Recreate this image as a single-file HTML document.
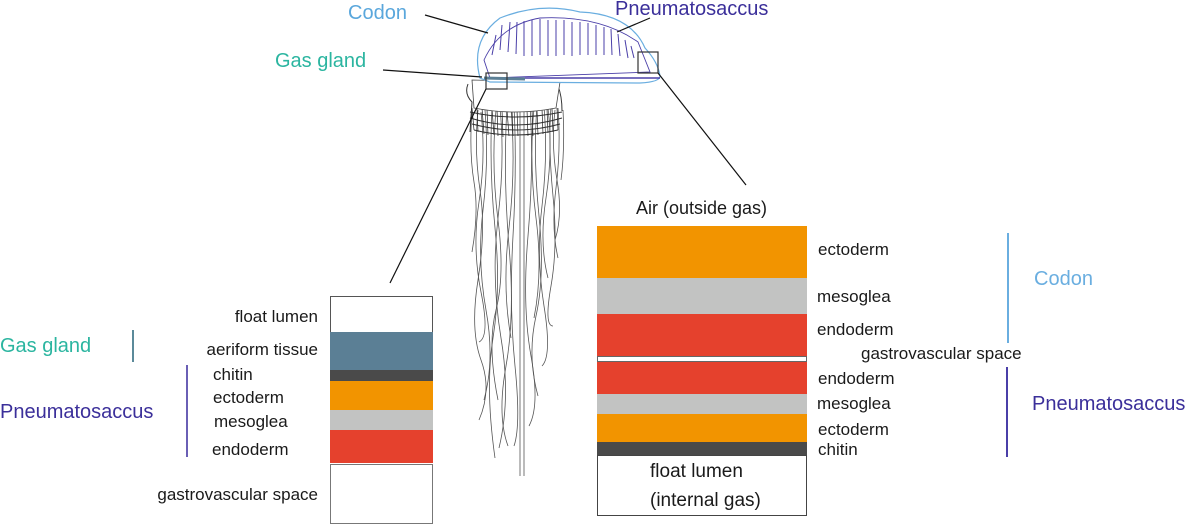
<!DOCTYPE html>
<html><head><meta charset="utf-8"><style>
html,body{margin:0;padding:0;background:#fff;}
body{width:1200px;height:526px;position:relative;overflow:hidden;font-family:"Liberation Sans","DejaVu Sans",sans-serif;}
.t{position:absolute;font-size:17px;color:#1a1a1a;white-space:nowrap;line-height:20px;}
.r{text-align:right;}
</style></head><body>
<svg width="1200" height="526" style="position:absolute;left:0;top:0" xmlns="http://www.w3.org/2000/svg">
<!-- tentacles -->
<g fill="none" stroke="#555" stroke-width="0.8">
<path d="M478 110 q-4 40 2 80 t-2 90 t3 80 t-2 60"/>
<path d="M485 110 q4 50 -2 100 t3 100 t-2 90"/>
<path d="M492 108 q-3 60 3 120 t-2 110 t2 120"/>
<path d="M500 108 q5 50 -2 110 t3 120 t-2 110"/>
<path d="M507 106 q-4 70 2 140 t-3 120 t2 80"/>
<path d="M514 106 q3 60 -1 130 t2 130 t-1 80"/>
<path d="M520 106 l0 370"/>
<path d="M524 106 l0 370"/>
<path d="M530 106 q4 60 -2 130 t3 120 t-2 70"/>
<path d="M537 106 q-4 50 2 110 t-3 100 t2 80"/>
<path d="M544 106 q4 50 -2 100 t2 100 t-2 60"/>
<path d="M551 106 q-3 40 2 90 t-2 90 t2 40"/>
<path d="M558 108 q3 40 -2 80 t2 70"/>
<path d="M472 112 q-3 40 2 70 t-2 70"/>
<path d="M563 110 q2 40 -2 70"/>
<path d="M481 112 q5 45 -2 90 t2 90 t-2 50"/>
<path d="M496 110 q-5 55 2 110 t-2 90 t2 90"/>
<path d="M511 108 q5 60 -2 120 t2 110"/>
<path d="M534 108 q-5 55 2 110 t-2 100"/>
<path d="M548 108 q5 45 -2 90 t2 80"/>
<path d="M555 110 q-4 35 2 70 t-2 60"/>
</g>
<g stroke="#333" stroke-width="1" fill="none">
<path d="M470 112 q45 10 92 0 M470 118 q45 14 92 0 M472 124 q45 12 88 0 M474 130 q40 10 84 0"/>
<path d="M468 84 q-4 10 4 18 l-2 30 M558 86 q4 10 4 25"/>
</g>
<g stroke="#222" stroke-width="0.7">
<path d="M472 108 l2 22 M477 108 l1 24 M482 108 l2 26 M487 109 l1 26 M492 109 l2 26 M497 109 l1 27 M502 110 l1 27 M507 110 l2 26 M512 110 l1 26 M517 110 l1 26 M527 110 l1 26 M532 110 l1 26 M537 110 l1 25 M542 109 l1 25 M547 109 l1 24 M552 108 l1 24 M557 108 l1 22"/>
</g>
<path d="M472 80 L560 82 L556 108 Q515 116 474 108 Z" fill="#fff" stroke="#444" stroke-width="0.8"/>
<!-- float -->
<path d="M480 78 Q470 40 500 18 Q540 2 580 12 Q630 14 645 48 Q658 62 660 76 Q660 82 640 83 L490 82 Z" fill="#fff" stroke="#6aaee0" stroke-width="1.2"/>
<path d="M484 60 Q500 25 540 18 Q600 15 638 42 L650 72 L490 78 Z" fill="none" stroke="#4a3fa8" stroke-width="0.9"/>
<g stroke="#4a3fa8" stroke-width="1" fill="none">
<path d="M492 55 l4 -20 M500 50 l2 -25 M508 52 l2 -30 M516 54 l1 -32 M524 56 l0 -35 M532 56 l0 -36 M540 55 l0 -36 M548 56 l0 -36 M556 56 l0 -36 M564 55 l0 -35 M572 56 l0 -34 M580 55 l0 -33 M588 55 l0 -32 M596 55 l0 -30 M604 55 l0 -28 M612 55 l-1 -26 M620 56 l-2 -22 M628 58 l-3 -18 M634 58 l-3 -12"/>
</g>
<path d="M484 78 L660 78" stroke="#4a3fa8" stroke-width="1.5"/>
<path d="M484 78 L525 79" stroke="#5b7f95" stroke-width="3"/>
<rect x="486" y="73" width="21" height="16" fill="none" stroke="#333" stroke-width="1.2"/>
<rect x="638" y="52" width="20" height="21" fill="none" stroke="#333" stroke-width="1.2"/>
<g stroke="#111" stroke-width="1.2">
<line x1="425" y1="15" x2="488" y2="33"/>
<line x1="650" y1="18" x2="617" y2="32"/>
<line x1="383" y1="70" x2="482" y2="77"/>
<line x1="486" y1="89" x2="390" y2="283"/>
<line x1="658" y1="73" x2="746" y2="185"/>
</g>
<!-- left stack -->
<rect x="330.5" y="296.5" width="102" height="36" fill="#fff" stroke="#555"/>
<rect x="330" y="332" width="103" height="38" fill="#5b7f95"/>
<rect x="330" y="370" width="103" height="11" fill="#4a4a4a"/>
<rect x="330" y="381" width="103" height="29" fill="#f29400"/>
<rect x="330" y="410" width="103" height="20" fill="#c2c3c2"/>
<rect x="330" y="430" width="103" height="33" fill="#e5412d"/>
<rect x="330.5" y="464.5" width="102" height="59" fill="#fff" stroke="#777"/>
<line x1="133" y1="330" x2="133" y2="362" stroke="#5b8a9a" stroke-width="2"/>
<line x1="187" y1="365" x2="187" y2="457" stroke="#6a5fb5" stroke-width="2"/>
<!-- right stack -->
<rect x="597" y="226" width="210" height="52" fill="#f29400"/>
<rect x="597" y="278" width="210" height="36" fill="#c2c3c2"/>
<rect x="597" y="314" width="210" height="42" fill="#e5412d"/>
<rect x="597.5" y="356.5" width="209" height="5" fill="#fff" stroke="#666"/>
<rect x="597" y="362" width="210" height="32" fill="#e5412d"/>
<rect x="597" y="394" width="210" height="20" fill="#c2c3c2"/>
<rect x="597" y="414" width="210" height="28" fill="#f29400"/>
<rect x="597" y="442" width="210" height="13" fill="#4a4a4a"/>
<rect x="597.5" y="455.5" width="209" height="60" fill="#fff" stroke="#444"/>
<line x1="1008" y1="233" x2="1008" y2="343" stroke="#6aaee0" stroke-width="2"/>
<line x1="1007" y1="367" x2="1007" y2="457" stroke="#4a3fa8" stroke-width="2"/>
</svg>
<div class="t" style="left:348px;top:3px;font-size:20px;color:#5aa7dc">Codon</div>
<div class="t" style="left:615px;top:-1px;font-size:20px;color:#3b2f9a">Pneumatosaccus</div>
<div class="t" style="left:275px;top:51px;font-size:20px;color:#2bb5a0">Gas gland</div>

<div class="t r" style="right:882px;top:307px">float lumen</div>
<div class="t r" style="right:882px;top:340px">aeriform tissue</div>
<div class="t" style="left:213px;top:365px">chitin</div>
<div class="t" style="left:213px;top:388px">ectoderm</div>
<div class="t" style="left:214px;top:412px">mesoglea</div>
<div class="t" style="left:212px;top:440px">endoderm</div>
<div class="t r" style="right:882px;top:485px">gastrovascular space</div>
<div class="t" style="left:0px;top:336px;font-size:20px;color:#2bb5a0">Gas gland</div>
<div class="t" style="left:0px;top:402px;font-size:20px;color:#3b2f9a">Pneumatosaccus</div>

<div class="t" style="left:636px;top:198px;font-size:18px">Air (outside gas)</div>
<div class="t" style="left:818px;top:240px">ectoderm</div>
<div class="t" style="left:817px;top:287px">mesoglea</div>
<div class="t" style="left:817px;top:320px">endoderm</div>
<div class="t" style="left:861px;top:344px">gastrovascular space</div>
<div class="t" style="left:818px;top:369px">endoderm</div>
<div class="t" style="left:817px;top:394px">mesoglea</div>
<div class="t" style="left:818px;top:420px">ectoderm</div>
<div class="t" style="left:818px;top:440px">chitin</div>
<div class="t" style="left:650px;top:462px;font-size:19px">float lumen</div>
<div class="t" style="left:650px;top:491px;font-size:19px">(internal gas)</div>
<div class="t" style="left:1034px;top:269px;font-size:20px;color:#6aaee0">Codon</div>
<div class="t" style="left:1032px;top:394px;font-size:20px;color:#3b2f9a">Pneumatosaccus</div>
</body></html>
